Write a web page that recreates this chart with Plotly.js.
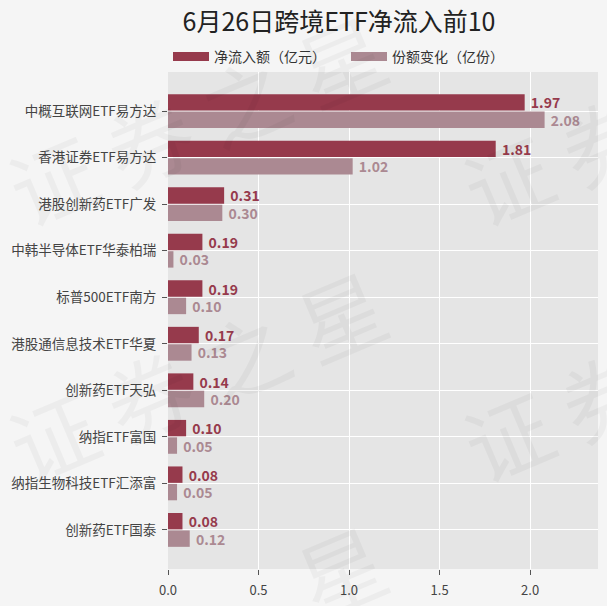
<!DOCTYPE html>
<html>
<head>
<meta charset="utf-8">
<script src="https://cdn.plot.ly/plotly-3.0.1.min.js"></script>
<style>html,body{margin:0;padding:0;background:#f5f5f5;}#chart{width:607px;height:606px;}</style>
</head>
<body>
<div id="chart"></div>
<script>
const categories = ['中概互联网ETF易方达','香港证券ETF易方达','港股创新药ETF广发','中韩半导体ETF华泰柏瑞','标普500ETF南方','港股通信息技术ETF华夏','创新药ETF天弘','纳指ETF富国','纳指生物科技ETF汇添富','创新药ETF国泰'];
const netInflow = [1.97,1.81,0.31,0.19,0.19,0.17,0.14,0.10,0.08,0.08];
const shareChange = [2.08,1.02,0.30,0.03,0.10,0.13,0.20,0.05,0.05,0.12];
const seriesNames = ['净流入额（亿元）','份额变化（亿份）'];
const xTickVals = [0,0.5,1,1.5,2];
const xTickText = ['0.0','0.5','1.0','1.5','2.0'];
const titleText = '6月26日跨境ETF净流入前10';
const watermarkChars = ['证','券','之','星'];

const C1 = '#963a4c', C2 = '#ab8992';
const FONT = '"Microsoft YaHei","Noto Sans CJK SC","Noto Sans",sans-serif';

const W = 607, H = 606, ML = 168, MR = 9, MT = 72, MB = 37;
const PW = W - ML - MR, PH = H - MT - MB;
function px2x(px){ return (px - ML) / PW; }
function py2y(py){ return (H - MB - py) / PH; }

const traces = [
  {type:'bar', orientation:'h', name:seriesNames[0], y:categories, x:netInflow,
   marker:{color:C1}, showlegend:false,
   texttemplate:'\u00a0%{x:.2f}', textposition:'outside', cliponaxis:false, constraintext:'none',
   textfont:{family:FONT, size:14, color:C1, weight:'bold'}, hoverinfo:'x+y'},
  {type:'bar', orientation:'h', name:seriesNames[1], y:categories, x:shareChange,
   marker:{color:C2}, showlegend:false,
   texttemplate:'\u00a0%{x:.2f}', textposition:'outside', cliponaxis:false, constraintext:'none',
   textfont:{family:FONT, size:14, color:C2, weight:'bold'}, hoverinfo:'x+y'},
  {type:'scatter', mode:'lines', name:seriesNames[0], x:[null], y:[null],
   line:{color:C1, width:9}, showlegend:true, hoverinfo:'skip'},
  {type:'scatter', mode:'lines', name:seriesNames[1], x:[null], y:[null],
   line:{color:C2, width:9}, showlegend:true, hoverinfo:'skip'}
];

// watermark: repeated diagonal "证券之星"
const annotations = [];
const stepX = 96, stepY = -40;
for (let i = 0; i <= 1; i++) {
  for (let j = 0; j <= 2; j++) {
    const sx = 52 + 455 * i, sy = 178 + 255 * j;
    watermarkChars.forEach((ch, k) => {
      const cx = sx + stepX * k, cy = sy + stepY * k;
      if (cx < 0 || cx > W || cy < 20 || cy > H - 20) return;
      annotations.push({xref:'paper', yref:'paper', x:px2x(cx), y:py2y(cy),
        xanchor:'center', yanchor:'middle', showarrow:false, text:ch, textangle:-23,
        font:{family:FONT, size:86, color:'rgba(0,0,0,0.035)'}});
    });
  }
}

const layout = {
  width:W, height:H,
  margin:{l:ML, r:MR, t:MT, b:MB, pad:0},
  paper_bgcolor:'#f5f5f5', plot_bgcolor:'#e5e5e5',
  font:{family:FONT, size:13, color:'#444'},
  title:{text:titleText, font:{family:FONT, size:25, color:'#222'},
         xref:'container', x:0.5585, xanchor:'center', yref:'container', y:1 - 22.5/H, yanchor:'middle'},
  barmode:'group', bargap:0.25, bargroupgap:0.06,
  showlegend:true,
  legend:{orientation:'h', x:0, xanchor:'left', y:py2y(57), yanchor:'middle',
          font:{family:FONT, size:14, color:'#333'}, bgcolor:'rgba(0,0,0,0)',
          itemwidth:36, entrywidth:127, entrywidthmode:'pixels', traceorder:'normal'},
  xaxis:{range:[0,2.375], tickvals:xTickVals, ticktext:xTickText, showgrid:true, gridcolor:'#ffffff', gridwidth:1,
         zeroline:false, ticks:'outside', ticklen:5, tickcolor:'#555', tickwidth:1,
         ticklabelstandoff:4, tickfont:{family:FONT, size:13, color:'#444'}, showline:false, fixedrange:true},
  yaxis:{type:'category', categoryorder:'array', categoryarray:categories, range:[9.84,-0.84],
         showgrid:true, gridcolor:'#ffffff', gridwidth:1, ticks:'outside', ticklen:5, tickcolor:'#555', tickwidth:1,
         ticklabelstandoff:3, tickfont:{family:FONT, size:13.5, color:'#444'}, showline:false, fixedrange:true},
  annotations:annotations
};

Plotly.newPlot('chart', traces, layout, {displayModeBar:false, staticPlot:true});
</script>
</body>
</html>
